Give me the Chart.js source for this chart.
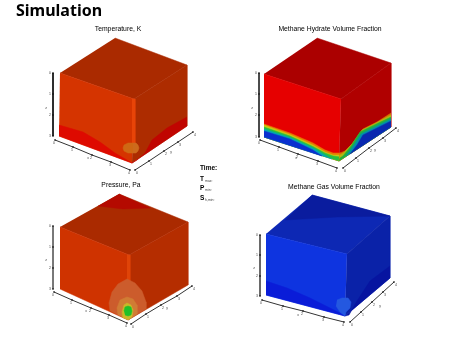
<!DOCTYPE html>
<html>
<head>
<meta charset="utf-8">
<title>Simulation</title>
<script src="https://cdn.jsdelivr.net/npm/chart.js@4/dist/chart.umd.min.js"></script>
<style>
  html, body { margin: 0; padding: 0; background: #fff; }
  canvas { display: block; filter: blur(0.65px); }
</style>
</head>
<body>
<canvas id="chart" width="474" height="355"></canvas>
<script>

// Temperature
const tempTop = [[115,38],[187,65],[134,99],[60,73]];
const tempLeft = [[60,73],[134,99],[132,163],[59,136]];
const tempRight = [[134,99],[187,65],[187,126],[132,163]];
const tempLeftBand = [[59,125],[83,132],[100,142],[115,153],[132,163],[59,136]];
const tempRightBand = [[187,117],[167,128],[152,140],[145,153],[137,160],[132,163],[187,126]];
const tempEdge = [[132,99],[135,99],[135,150],[132,150]];
const tempBlobLeft = [[133,143],[128,143],[124,145],[123,148],[124,151],[128,153],[133,153]];
const tempBlobRight = [[133,143],[136,143],[138,145],[139,148],[138,151],[136,153],[133,153]];
const tempAxisZ = [[53,73],[53,94],[53,115],[53,136]];
const tempAxisX = [[55,140],[73,147],[92,155],[111,162],[130,170]];
const tempAxisY = [[135,170],[149,161],[164,151],[178,142],[193,132]];

// Methane hydrate
const hydTop = [[317,38],[391,63],[341,99],[264,74]];
const hydLeft = [[264,74],[341,99],[339,161],[264,137]];
const hydRight = [[341,99],[391,63],[391,127],[339,161]];
const hydLeftOrange = [[264,124],[290,133],[313,143],[325,150],[333,153],[341,153],[339,161],[264,137]];
const hydLeftYellow = [[264,125],[290,134.5],[313,145],[325,152],[333,155],[340,155],[339,161],[264,137]];
const hydLeftGreen = [[264,127],[290,136],[313,146.5],[325,153],[333,156],[340,157],[339,161],[264,137]];
const hydLeftTeal = [[264,129],[290,137.5],[313,148],[325,155],[332,159],[264,137]];
const hydLeftBlue = [[264,131],[290,139],[313,150],[322,156],[264,137]];
const hydRightOrange = [[391,113],[377,122],[363,129],[353,143],[345,151],[340,153],[339,161],[391,127]];
const hydRightYellow = [[391,115],[375,123.5],[362,130],[352,144],[344,152.5],[340,155],[339,161],[391,127]];
const hydRightGreen = [[391,117],[370,127],[360,132],[351,146],[343,156],[340,158],[339,161],[391,127]];
const hydRightTeal = [[391,119],[372,128.5],[361,134],[354,145],[346,156],[391,127]];
const hydRightBlue = [[391,121],[373,130],[363,135],[357,145],[350,154],[391,127]];
const hydAxisZ = [[259,73],[259,94],[259,115],[259,137]];
const hydAxisX = [[260,140],[279,147],[298,154],[318,161],[337,168]];
const hydAxisY = [[343,168],[356,158],[369,148],[383,138],[396,128]];

// Pressure
const presTop = [[119,194],[188,222],[129,255],[60,227]];
const presTopRed = [[119,194],[150,208],[123,209],[98,206]];
const presLeft = [[60,227],[129,255],[128,320],[60,289]];
const presRight = [[129,255],[188,222],[188,285],[128,320]];
const presEdge = [[127,255],[130,255],[130,282],[127,282]];
const presOuter = [[110,311],[109,303],[112,292],[118,284],[127,279],[135,283],[142,291],[146,302],[146,309],[128,320]];
const presMiddle = [[118,315],[117,308],[120,300],[127,297],[133,299],[137,305],[137,314],[128,320]];
const presInner = [[123,318],[122,312],[124,305],[127,303],[131,305],[133,310],[132,317],[128,320]];
const presCore = [[124,311],[125,307],[128,306],[131,307],[132,311],[131,315],[128,316],[125,315]];
const presAxisZ = [[53,226],[53,247],[53,268],[53,289]];
const presAxisX = [[54,292],[72,300],[91,308],[109,315],[127,323]];
const presAxisY = [[131,324],[146,314],[161,305],[177,296],[192,286]];

// Methane gas
const gasTop = [[312,195],[390,216],[347,254],[266,234]];
const gasTopDark = [[312,195],[390,216],[337,217],[285,220]];
const gasLeft = [[266,234],[347,254],[345,316],[266,295]];
const gasRight = [[347,254],[390,216],[390,278],[345,316]];
const gasLeftBand = [[266,281],[287,288],[310,298],[334,310],[345,316],[266,295]];
const gasRightBand = [[390,266],[370,281],[357,301],[349,315],[345,316],[390,278]];
const gasBlob = [[337,300],[342,298],[348,298],[351,302],[350,308],[346,312],[345,316],[340,312],[336,306]];
const gasAxisZ = [[260,235],[260,255],[260,276],[260,296]];
const gasAxisX = [[262,300],[283,306],[303,311],[324,317],[344,322]];
const gasAxisY = [[350,322],[361,312],[372,302],[383,292],[394,282]];

// Textes
const pageTitle = 'Simulation';
const panelTitles = ['Temperature, K', 'Methane Hydrate Volume Fraction', 'Pressure, Pa', 'Methane Gas Volume Fraction'];
const timeLabels = ['T', 'P', 'S'];
const timeSubs = ['max', 'min', 'h,min'];
const tickLabels = ['0', '1', '2', '3', '4'];
const axisNames = ['x', 'y', 'z'];

function face(points, color) {
  return {
    data: points.map(([x, y]) => ({ x, y })),
    showLine: true,
    fill: 'shape',
    backgroundColor: color,
    borderColor: color,
    borderWidth: 0.5,
    pointRadius: 0,
    tension: 0
  };
}

function axis(points, lineColor) {
  return {
    data: points.map(([x, y]) => ({ x, y })),
    showLine: true,
    fill: false,
    borderColor: lineColor,
    borderWidth: 1,
    pointStyle: 'rect',
    pointRadius: 1,
    pointBackgroundColor: '#111',
    pointBorderWidth: 0
  };
}

// Ordre du peintre : du fond vers le devant
const datasets = [
  face(tempTop, '#aa2a00'), face(tempLeft, '#d53400'), face(tempRight, '#ad2c00'),
  face(tempLeftBand, '#de0a00'), face(tempRightBand, '#c00500'), face(tempEdge, '#e84408'),
  face(tempBlobLeft, '#cf6814'), face(tempBlobRight, '#cd6a1c'),
  axis(tempAxisZ, '#111'), axis(tempAxisX, '#333'), axis(tempAxisY, '#333'),

  face(hydTop, '#ab0000'), face(hydLeft, '#e60000'), face(hydRight, '#b00000'),
  face(hydLeftOrange, '#e87800'), face(hydLeftYellow, '#c8c810'), face(hydLeftGreen, '#28c040'),
  face(hydLeftTeal, '#00a8b0'), face(hydLeftBlue, '#0a30d0'),
  face(hydRightOrange, '#d87000'), face(hydRightYellow, '#b0b810'), face(hydRightGreen, '#20b040'),
  face(hydRightTeal, '#0090a8'), face(hydRightBlue, '#0a28b0'),
  axis(hydAxisZ, '#333'), axis(hydAxisX, '#333'), axis(hydAxisY, '#333'),

  face(presTop, '#aa2a00'), face(presTopRed, '#b40a00'), face(presLeft, '#cf3300'), face(presRight, '#b52d00'),
  face(presEdge, '#e04408'),
  face(presOuter, '#cc5c2c'), face(presMiddle, '#d07c34'), face(presInner, '#c8b828'), face(presCore, '#20c028'),
  axis(presAxisZ, '#666'), axis(presAxisX, '#333'), axis(presAxisY, '#333'),

  face(gasTop, '#0d28b4'), face(gasTopDark, '#0a1c9e'), face(gasLeft, '#0e34e0'), face(gasRight, '#0a22a8'),
  face(gasLeftBand, '#0a1cd8'), face(gasRightBand, '#0714a0'), face(gasBlob, '#2458e0'),
  axis(gasAxisZ, '#555'), axis(gasAxisX, '#333'), axis(gasAxisY, '#333')
];
datasets.forEach((d, i) => { d.order = datasets.length - i; d.clip = false; });

// Plugin pour les textes (titres, bloc "Time", graduations)
const labelsPlugin = {
  id: 'labels',
  afterDraw(chart) {
    const ctx = chart.ctx;
    const sx = chart.scales.x;
    const sy = chart.scales.y;
    const put = (text, x, y, font, color, align) => {
      ctx.font = font;
      ctx.fillStyle = color;
      ctx.textAlign = align || 'center';
      ctx.textBaseline = 'middle';
      ctx.fillText(text, sx.getPixelForValue(x), sy.getPixelForValue(y));
    };
    ctx.save();
    put(pageTitle, 16, 11, 'bold 16px "Noto Sans"', '#000', 'left');

    const titleFont = '6.8px "Liberation Sans"';
    put(panelTitles[0], 118, 29, titleFont, '#000');
    put(panelTitles[1], 330, 29, titleFont, '#000');
    put(panelTitles[2], 121, 185, titleFont, '#000');
    put(panelTitles[3], 334, 187, titleFont, '#000');

    put('Time:', 200, 168, 'bold 6.5px "Liberation Sans"', '#000', 'left');
    timeLabels.forEach((t, i) => {
      const y = [179, 188, 198][i];
      put(t, 200, y, 'bold 6.5px "Liberation Sans"', '#000', 'left');
      put(timeSubs[i] + ':', 205, y + 2, '3.5px "Liberation Sans"', '#444', 'left');
    });

    const small = '3.5px "Liberation Sans"';
    const grey = '#444';
    [[tempAxisZ, -3, 0], [hydAxisZ, -3, 0], [presAxisZ, -3, 0], [gasAxisZ, -3, 0]].forEach(([pts, dx, dy]) => {
      pts.forEach(([x, y], i) => put(tickLabels[i], x + dx, y + dy, small, grey));
    });
    [tempAxisX, hydAxisX, presAxisX, gasAxisX].forEach(pts => {
      pts.forEach(([x, y], i) => put(tickLabels[i], x - 1, y + 3, small, grey));
    });
    [tempAxisY, hydAxisY, presAxisY, gasAxisY].forEach(pts => {
      pts.forEach(([x, y], i) => put(tickLabels[i], x + 2, y + 3, small, grey));
    });
    [[88, 158, 171, 152, 46, 108], [296, 158, 375, 150, 252, 108], [86, 311, 167, 308, 46, 260], [298, 315, 380, 306, 254, 268]].forEach(p => {
      put(axisNames[0], p[0], p[1], small, grey);
      put(axisNames[1], p[2], p[3], small, grey);
      put(axisNames[2], p[4], p[5], small, grey);
    });
    ctx.restore();
  }
};

new Chart(document.getElementById('chart'), {
  type: 'scatter',
  data: { datasets },
  options: {
    responsive: false,
    animation: false,
    layout: { padding: 0, autoPadding: false },
    plugins: {
      legend: { display: false },
      tooltip: { enabled: false },
      title: { display: false }
    },
    scales: {
      x: { type: 'linear', display: false, min: 0, max: 474 },
      y: { type: 'linear', display: false, min: 0, max: 355, reverse: true }
    }
  },
  plugins: [labelsPlugin]
});
</script>
</body>
</html>
